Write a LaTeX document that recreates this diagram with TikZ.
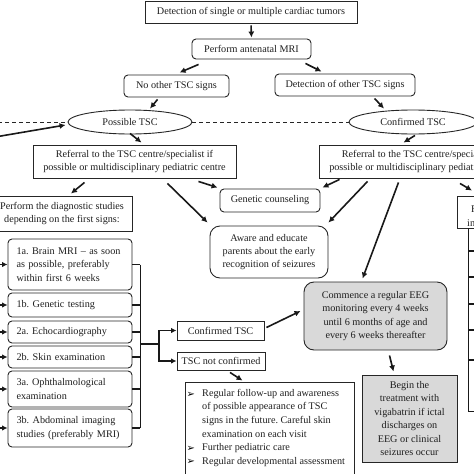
\documentclass[tikz,border=0pt]{standalone}
\usepackage{fontspec}
\setmainfont{Liberation Serif}
\newfontfamily\djv{DejaVu Sans}
\usetikzlibrary{arrows.meta,calc,shapes.geometric}
\frenchspacing
\begin{document}
\begin{tikzpicture}[x=1pt,y=-1pt,
  every node/.style={font=\fontsize{10.2}{13.4}\selectfont, text=black!88},
  box/.style={draw=black!85, line width=0.9pt, inner sep=0pt, align=center},
  rbox/.style={box, rounded corners=4pt},
  bigr/.style={box, rounded corners=10pt},
  gbox/.style={fill=gray!30},
  oval/.style={ellipse, draw=black!85, line width=0.9pt, inner sep=0pt},
  stk/.style={rbox, align=left, text width=107pt, inner xsep=8.5pt, inner ysep=0pt},
  arr/.style={line width=1.6pt, draw=black!90, -{Latex[length=6pt,width=6pt]}},
  arrs/.style={line width=1.3pt, draw=black!90, -{Latex[length=5.5pt,width=5.5pt]}},
  brk/.style={line width=1.3pt, draw=black!90},
  dsh/.style={line width=1pt, draw=black!85, dash pattern=on 4pt off 3pt},
  txt/.style={inner sep=0pt},
  bul/.style={txt, anchor=west, text=black, font=\djv\bfseries\fontsize{10}{10}\selectfont}
]
\useasboundingbox (0,0) rectangle (474,474);
\clip (0,0) rectangle (474,474);

% top part
\node[box, minimum width=212, minimum height=22] (det) at (251,12) {Detection of single or multiple cardiac tumors};
\node[rbox, minimum width=119, minimum height=20] (mri) at (251.5,49) {Perform antenatal MRI};
\node[rbox, minimum width=105, minimum height=22] (nots) at (176.5,86) {No other TSC signs};
\node[rbox, minimum width=140, minimum height=22] (other) at (345,85) {Detection of other TSC signs};
\node[oval, minimum width=124, minimum height=24] (poss) at (130,122) {Possible TSC};
\node[oval, minimum width=128, minimum height=24] (conf) at (413,122) {Confirmed TSC};

\node[box, minimum width=203, minimum height=33] (ref1) at (134.5,161.5) {Referral to the TSC centre/specialist if\\possible or multidisciplinary pediatric centre};
\node[box, minimum width=203, minimum height=33] (ref2) at (420.5,161.5) {Referral to the TSC centre/specialist if\\possible or multidisciplinary pediatric centre};

\node[box, minimum width=140, minimum height=35] (diag) at (62,213.5) {Perform the diagnostic studies\\depending on the first signs:};
\node[rbox, minimum width=100, minimum height=23] (gen) at (270,200.5) {Genetic counseling};
\node[bigr, minimum width=118, minimum height=52] (aware) at (269,252) {Aware and educate\\parents about the early\\recognition of seizures};
\node[box, minimum width=73, minimum height=32] (Fbox) at (493.5,212) {};
\node[txt, anchor=base west] (f1) at (471,212) {F};
\node[txt, anchor=base west] (f2) at (467,226) {in};

% left stack
\node[stk, minimum height=51] (s1a) at (70,264.5) {1a. Brain MRI -- as soon\\as possible, preferably\\within first 6 weeks};
\node[stk, minimum height=24] (s1b) at (70,305) {1b. Genetic testing};
\node[stk, minimum height=22] (s2a) at (70,332) {2a. Echocardiography};
\node[stk, minimum height=22] (s2b) at (70,357) {2b. Skin examination};
\node[stk, minimum height=36] (s3a) at (70,389) {3a. Ophthalmological\\examination};
\node[stk, minimum height=38] (s3b) at (70,428) {3b. Abdominal imaging\\studies (preferably MRI)};

\node[box, minimum width=87, minimum height=19] (conf2) at (220.5,330.5) {Confirmed TSC};
\node[box, minimum width=88, minimum height=18] (notc) at (221,361) {TSC not confirmed};

\node[bigr, gbox, minimum width=143, minimum height=68] (eeg) at (375.5,316) {Commence a regular EEG\\monitoring every 4 weeks\\until 6 months of age and\\every 6 weeks thereafter};
\node[box, gbox, minimum width=95, minimum height=87] (begin) at (409.5,418.5) {Begin the\\treatment with\\vigabatrin if ictal\\discharges on\\EEG or clinical\\seizures occur};

\node[box, minimum width=169, minimum height=108] (list) at (269.5,436) {};
\node[txt, anchor=north west, align=left, font=\fontsize{10.2}{13.6}\selectfont] (ltxt) at (202,389) {Regular follow-up and awareness\\of possible appearance of TSC\\signs in the future. Careful skin\\examination on each visit\\Further pediatric care\\Regular developmental assessment};
\node[bul] (b1) at (186.5,394.5) {➢};
\node[bul] (b2) at (186.5,448.5) {➢};
\node[bul] (b3) at (186.5,462) {➢};

% dashed line and free-end arrows
\coordinate (dl) at (-2,122);
\coordinate (la) at (-2,136.5);
\coordinate (ledge) at (-3,0);
\draw[dsh] (dl) -- (poss.west);
\draw[dsh] (poss.east) -- (conf.west);
\draw[arr] (la) -- ([shift={(-2,3)}]poss.west);

% arrows
\draw[arr, shorten <=2pt, shorten >=1pt] (det.south) -- (mri.north);
\draw[arr] ([shift={(7,5)}]mri.south west) -- ([shift={(56,-2)}]nots.north west);
\draw[arr] ([shift={(-6,4)}]mri.south east) -- ([shift={(47,-2)}]other.north west);
\draw[arr] ([shift={(34,2)}]nots.south west) -- ([shift={(20,-1)}]poss.north);
\draw[arr] ([shift={(100,2)}]other.south west) -- ([shift={(-29,-1)}]conf.north);
\draw[arr] ([yshift=1]poss.south) -- ([shift={(7,-2)}]ref1.north);
\draw[arr] ([shift={(2,1)}]conf.south) -- ([shift={(-17,-2)}]ref2.north);
\draw[arr] ([shift={(-50,4)}]ref1.south) -- ([shift={(9,-2)}]diag.north);
\draw[arr] ([shift={(-38,3)}]ref1.south east) -- ([shift={(-2,-1)}]gen.north west);
\draw[arr] ([shift={(33,5)}]ref1.south) -- ([shift={(-2,-3)}]aware.north west);
\draw[arr] ([shift={(21,1)}]ref2.south west) -- ([shift={(2,-1)}]gen.north east);
\draw[arr] ([shift={(-53,3)}]ref2.south) -- ([shift={(0,-3)}]aware.north east);
\draw[arr] ([shift={(-22,4)}]ref2.south) -- ([shift={(-13,-3)}]eeg.north);
\draw[arr] ([shift={(39.5,5)}]ref2.south) -- ([shift={(-21.5,-5)}]Fbox.north);
\draw[arr] ([shift={(2,-3)}]conf2.east) -- ([shift={(-3,-5)}]eeg.west);
\draw[arr] ([shift={(9,2)}]notc.south) -- ([shift={(-27,-1)}]list.north);
\draw[arr] ([shift={(14,5)}]eeg.south) -- ([shift={(-16,-3)}]begin.north);

% left input arrows
\foreach \n in {s1a,s1b,s2a,s2b,s3a,s3b}
  \draw[arrs] (ledge |- \n.west) -- (\n.west);

% left bracket and fork
\foreach \n in {s1a,s1b,s2a,s2b,s3a,s3b}
  \draw[brk] (\n.east) -- ++(8,0);
\draw[brk] ([xshift=8]s1a.east) -- ([xshift=8]s3b.east);
\coordinate (bk) at (140,344);
\coordinate (fork) at (159,344);
\draw[brk] (bk) -- (fork);
\draw[arrs] (fork) |- (conf2.west);
\draw[arrs] (fork) |- (notc.west);

% right bracket
\draw[brk] ([xshift=12]Fbox.south west) -- ++(0,183) -- ++(12,0);
\foreach \yy in {251,277,304,330,360}
  \draw[brk] (469,\yy) -- (480,\yy);
\end{tikzpicture}
\end{document}
